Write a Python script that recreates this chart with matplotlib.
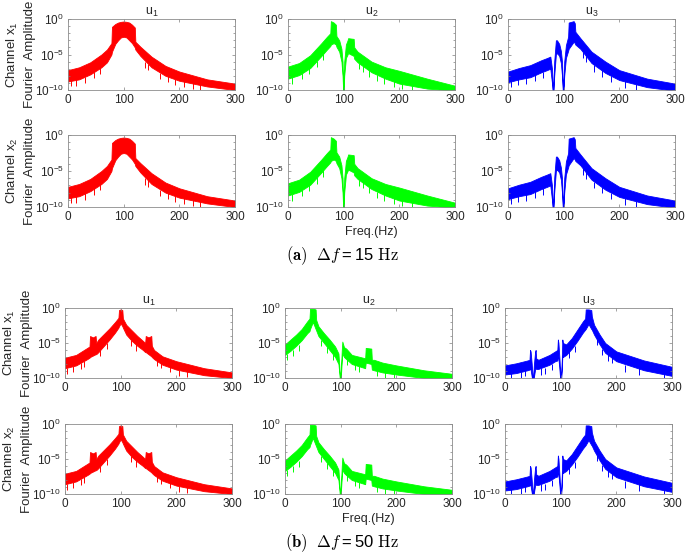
import numpy as np
import matplotlib.pyplot as plt
from matplotlib.ticker import FixedLocator, NullFormatter

plt.rcParams['font.family'] = ['Liberation Sans', 'DejaVu Sans']
plt.rcParams['mathtext.default'] = 'regular'

W, H = 685, 554

# ---- (a) df = 15 Hz : log10 of the upper / lower envelope of each spectrum ----
a1_f = [0, 20, 40, 60, 70, 78, 79, 85, 90, 95, 100, 105, 110, 115, 120, 121, 130, 150, 175, 200, 250, 300]
a1_up = [-7.2, -6.8, -6.1, -5.0, -4.3, -3.4, -1.1, -0.7, -0.5, -0.4, -0.35, -0.4, -0.5, -0.8, -1.2, -3.2, -3.9, -5.3, -6.6, -7.4, -8.5, -9.1]
a1_lo = [-8.8, -8.5, -7.8, -6.8, -6.1, -5.0, -4.6, -3.5, -3.0, -2.6, -2.5, -2.6, -3.0, -3.4, -4.0, -4.3, -5.2, -6.8, -8.0, -8.7, -9.5, -10.0]
a1_dip_f = [5, 14, 30, 46, 58, 139, 143, 166, 180, 193, 208, 225, 237]
a1_dip_v = [-9.5, -9.4, -9.0, -8.3, -7.7, -6.9, -7.2, -8.5, -8.9, -9.3, -9.6, -9.9, -10.1]

a2_f = [0, 20, 40, 60, 70, 76, 77, 82, 86, 87, 92, 96, 98, 99.5, 101, 104, 107, 108, 118, 119, 125, 150, 175, 200, 250, 300]
a2_up = [-6.7, -6.2, -5.1, -3.4, -2.5, -2.0, -0.3, -0.5, -0.8, -2.4, -3.0, -4.2, -6.0, -10.5, -6.0, -3.6, -3.0, -2.7, -2.8, -4.0, -4.6, -6.0, -6.8, -7.3, -8.4, -9.4]
a2_lo = [-8.4, -7.9, -6.9, -5.2, -4.3, -3.8, -3.6, -3.4, -3.6, -3.9, -4.6, -6.0, -8.0, -11.0, -8.0, -5.5, -5.0, -4.8, -5.2, -5.6, -6.1, -7.5, -8.4, -9.1, -9.8, -10.1]
a2_dip_f = [8, 25, 38, 52, 63, 128, 135, 146, 160, 172, 190, 205, 222]
a2_dip_v = [-9.1, -8.5, -7.8, -6.8, -5.8, -7.1, -7.4, -8.1, -8.8, -9.1, -9.6, -9.9, -10.1]

a3_f = [0, 20, 40, 60, 70, 76, 79, 81, 83, 86, 88, 92, 95, 97, 99, 101, 104, 108, 109, 118, 120, 121, 130, 150, 175, 200, 250, 300]
a3_up = [-7.4, -6.9, -6.5, -5.8, -5.5, -5.3, -7.0, -10.5, -6.0, -3.0, -3.0, -3.5, -4.5, -6.0, -10.5, -6.0, -3.7, -2.5, -0.5, -0.3, -0.6, -1.8, -2.7, -4.6, -6.0, -7.2, -8.4, -9.1]
a3_lo = [-8.9, -8.5, -8.2, -7.5, -7.2, -7.0, -9.0, -11.0, -8.0, -5.0, -4.8, -5.2, -6.2, -8.0, -11.0, -8.0, -5.5, -4.5, -4.2, -3.2, -3.4, -3.6, -4.2, -6.2, -7.6, -8.6, -9.6, -10.1]
a3_dip_f = [6, 18, 33, 48, 62, 134, 141, 155, 168, 185, 210, 230]
a3_dip_v = [-9.6, -9.3, -9.1, -8.7, -8.3, -5.5, -6.1, -7.4, -8.1, -8.9, -9.7, -10.0]

# ---- (b) df = 50 Hz ----
b1_f = [0, 20, 40, 44, 45, 50, 55, 56, 60, 70, 80, 90, 96, 97, 100, 103, 104, 110, 120, 130, 140, 144, 145, 150, 155, 156, 160, 175, 200, 250, 300]
b1_up = [-7.1, -6.7, -5.7, -5.5, -4.0, -4.2, -4.0, -5.0, -4.5, -3.7, -2.9, -2.0, -1.4, -0.3, -0.2, -0.3, -1.5, -2.4, -3.2, -4.0, -4.7, -5.0, -4.0, -4.2, -4.0, -5.4, -6.0, -6.9, -7.6, -8.6, -9.2]
b1_lo = [-8.6, -8.2, -7.3, -7.1, -7.0, -6.8, -6.6, -6.6, -6.3, -5.4, -4.5, -3.5, -2.8, -2.6, -2.2, -2.6, -2.8, -3.8, -4.7, -5.4, -6.0, -6.3, -6.3, -6.6, -6.9, -7.0, -7.3, -8.1, -8.8, -9.6, -10.0]
b1_dip_f = [4, 15, 28, 35, 63, 75, 118, 127, 165, 172, 188, 205, 220]
b1_dip_v = [-9.4, -9.2, -8.7, -8.4, -6.9, -5.9, -5.4, -6.1, -8.3, -8.6, -9.2, -9.7, -9.9]

b2_f = [0, 10, 20, 30, 40, 44, 45, 50, 55, 56, 60, 70, 80, 90, 96, 99.5, 102, 103, 106, 110, 120, 140, 144, 145, 155, 156, 160, 175, 200, 250, 300]
b2_up = [-5.2, -4.5, -3.8, -3.0, -1.9, -1.5, -0.1, -0.1, -0.2, -1.7, -2.6, -3.6, -4.5, -5.5, -6.5, -10.5, -6.0, -4.8, -5.6, -5.8, -6.7, -7.1, -7.2, -5.7, -5.8, -7.4, -7.4, -7.8, -8.2, -8.9, -9.4]
b2_lo = [-6.7, -6.1, -5.4, -4.6, -3.6, -3.3, -3.0, -2.0, -3.0, -3.2, -4.0, -5.0, -6.0, -7.0, -8.0, -11.0, -7.5, -6.5, -7.0, -7.3, -8.0, -8.5, -8.6, -7.8, -8.0, -8.8, -8.9, -9.2, -9.5, -10.0, -10.3]
b2_dip_f = [3, 14, 25, 65, 75, 86, 112, 125, 133, 165, 180, 195]
b2_dip_v = [-7.4, -6.9, -6.2, -5.4, -6.4, -7.4, -8.2, -8.9, -9.2, -9.7, -10.0, -10.2]

b3_f = [0, 20, 40, 44, 45, 46, 48, 50, 52, 54, 55, 56, 60, 80, 90, 94, 95, 96, 98, 100, 102, 103, 104, 110, 120, 130, 140, 144, 145, 150, 155, 156, 160, 170, 180, 200, 250, 300]
b3_up = [-8.2, -7.9, -7.5, -7.4, -6.0, -6.2, -8.0, -10.5, -8.0, -6.3, -6.0, -7.2, -7.4, -6.7, -6.2, -6.0, -4.5, -5.0, -7.5, -10.5, -7.5, -4.5, -5.0, -5.2, -4.3, -3.1, -1.9, -1.5, -0.2, -0.2, -0.3, -1.2, -2.4, -3.8, -5.0, -6.2, -7.5, -8.4]
b3_lo = [-9.5, -9.3, -8.9, -8.8, -8.6, -8.8, -9.8, -11.0, -9.8, -8.8, -8.6, -8.7, -8.7, -8.1, -7.6, -7.5, -6.8, -7.2, -9.0, -11.0, -9.0, -6.8, -7.0, -6.7, -5.8, -4.7, -3.5, -3.1, -3.0, -2.3, -3.0, -3.1, -3.8, -5.2, -6.4, -7.6, -8.9, -9.7]
b3_dip_f = [10, 28, 36, 65, 72, 85, 115, 125, 165, 175, 185, 192, 215, 240, 285]
b3_dip_v = [-10.1, -10.0, -9.7, -9.5, -9.4, -8.9, -7.1, -6.3, -5.3, -6.7, -7.5, -7.9, -9.1, -9.5, -10.2]

titles = ['u$_1$', 'u$_2$', 'u$_3$']
colors = ['#ff0000', '#00ff00', '#0000ff']
channels = ['Channel x$_1$', 'Channel x$_2$']

blocks = [
    [(a1_f, a1_up, a1_lo, a1_dip_f, a1_dip_v),
     (a2_f, a2_up, a2_lo, a2_dip_f, a2_dip_v),
     (a3_f, a3_up, a3_lo, a3_dip_f, a3_dip_v)],
    [(b1_f, b1_up, b1_lo, b1_dip_f, b1_dip_v),
     (b2_f, b2_up, b2_lo, b2_dip_f, b2_dip_v),
     (b3_f, b3_up, b3_lo, b3_dip_f, b3_dip_v)],
]

# pixel boxes (left, right) per column and (top, bottom) per row for each block
cols_px = [[(68, 235), (288, 455), (508, 675)],
           [(65, 232), (285, 452), (505, 672)]]
rows_px = [[(19, 90), (135, 207)],
           [(308, 378), (424, 494)]]
captions = [r'$\mathbf{(a)}\ \ \mathit{\Delta f} = 15\ \mathrm{Hz}$',
            r'$\mathbf{(b)}\ \ \mathit{\Delta f} = 50\ \mathrm{Hz}$']
caption_y = [256, 543]

fig = plt.figure(figsize=(W / 100, H / 100), dpi=100)

for b, block in enumerate(blocks):
    for r in range(2):
        for c, (f, up, lo, dip_f, dip_v) in enumerate(block):
            l, rr = cols_px[b][c]
            t, bt = rows_px[b][r]
            ax = fig.add_axes([l / W, 1 - bt / H, (rr - l) / W, (bt - t) / H])
            ax.fill_between(f, 10.0 ** np.array(lo), 10.0 ** np.array(up),
                            color=colors[c], lw=0.6, edgecolor=colors[c])
            # downward noise spikes below the band
            dv = np.array(dip_v)
            ax.vlines(dip_f, 10.0 ** dv, 10.0 ** (dv + 0.9), color=colors[c], lw=0.7)
            ax.set_yscale('log')
            ax.set_xlim(0, 300)
            ax.set_ylim(1e-10, 1e0)
            ax.set_xticks([0, 100, 200, 300])
            ax.yaxis.set_major_locator(FixedLocator([1e-10, 1e-5, 1e0]))
            ax.yaxis.set_minor_locator(FixedLocator([10.0 ** k for k in range(-9, 0) if k != -5]))
            ax.yaxis.set_minor_formatter(NullFormatter())
            ax.set_yticklabels(['$10^{-10}$', '$10^{-5}$', '$10^{0}$'])
            ax.tick_params(which='both', direction='in', top=True, right=True,
                           labelsize=8.5, colors='#7f7f7f', labelcolor='#262626',
                           width=0.5, pad=3)
            ax.tick_params(which='major', length=2.5)
            ax.tick_params(which='minor', length=1.5)
            for s in ax.spines.values():
                s.set_color('#8c8c8c')
                s.set_linewidth(0.6)
            if r == 0:
                ax.set_title(titles[c], fontsize=9, pad=3, color='#262626')
            if r == 1 and c == 1:
                ax.set_xlabel('Freq.(Hz)', fontsize=9, color='#262626', labelpad=2)
            if c == 0:
                ax.set_ylabel(channels[r] + '\nFourier  Amplitude', fontsize=9.5,
                              color='#262626', linespacing=1.5)
                ax.yaxis.set_label_coords(-0.19, 0.5)
    fig.text(0.5, 1 - caption_y[b] / H, captions[b], ha='center', va='center',
             fontsize=12, math_fontfamily='cm')

plt.savefig('out.png', dpi=100)
